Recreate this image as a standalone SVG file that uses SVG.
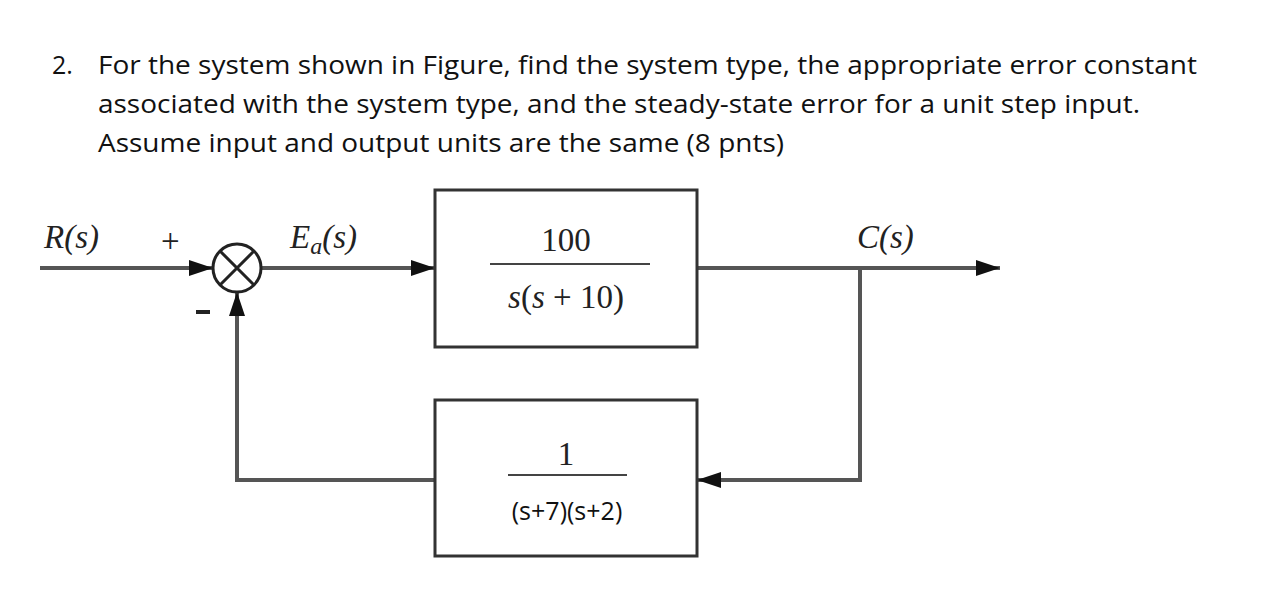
<svg xmlns="http://www.w3.org/2000/svg" width="1270" height="614" viewBox="0 0 1270 614">
<style>
.h{font-family:"Open Sans","Liberation Sans",Arial,sans-serif;font-size:25px;fill:#111}
.m{font-family:"Liberation Serif","Times New Roman",serif;font-size:33px;fill:#222}
.c{stroke:#555;stroke-width:4;fill:none}
.b{stroke:#333;stroke-width:3;fill:#fff}
</style>
<defs>
<marker id="A" viewBox="0 0 10 10" refX="10" refY="5" markerWidth="24" markerHeight="16" orient="auto" markerUnits="userSpaceOnUse" preserveAspectRatio="none"><path d="M0,0L10,5L0,10z" fill="#111"/></marker></defs>
<text class="h" x="52" y="74">2.</text>
<text class="h" x="98" y="74" textLength="1099" lengthAdjust="spacingAndGlyphs">For the system shown in Figure, find the system type, the appropriate error constant</text>
<text class="h" x="98" y="113" textLength="1042" lengthAdjust="spacingAndGlyphs">associated with the system type, and the steady-state error for a unit step input.</text>
<text class="h" x="98" y="152" textLength="686" lengthAdjust="spacingAndGlyphs">Assume input and output units are the same (8 pnts)</text>
<g id="connectors">
<path class="c" d="M40,268H213" marker-end="url(#A)"/>
<path class="c" d="M261,268H435" marker-end="url(#A)"/>
<path class="c" d="M697,268H1000" marker-end="url(#A)"/>
<path class="c" d="M860,268V480H697" marker-end="url(#A)"/>
<path class="c" d="M435,480H237V292" marker-end="url(#A)"/>
</g>
<g id="sum"><circle cx="237" cy="268" r="24" fill="#fff" stroke="#222" stroke-width="3"/><path d="M220,251L254,285M254,251L220,285" stroke="#222" stroke-width="3"/>
<text class="m" x="44" y="248" font-style="italic">R(s)</text>
<text class="m" x="161" y="252" font-size="34">+</text>
<path d="M196,312H210" stroke="#222" stroke-width="4"/></g>
<text class="m" x="290" y="248" font-style="italic">E<tspan font-size="24" dy="6">a</tspan><tspan dy="-6">(s)</tspan></text>
<g id="forward"><rect class="b" x="435" y="190" width="262" height="157"/>
<text class="m" x="566" y="251" text-anchor="middle">100</text>
<path d="M490,264H650" stroke="#444" stroke-width="2"/>
<text class="m" x="566" y="308" text-anchor="middle"><tspan font-style="italic">s</tspan>(<tspan font-style="italic">s</tspan> + 10)</text></g>
<text class="m" x="857" y="248" font-style="italic">C(s)</text>
<g id="feedback"><rect class="b" x="435" y="400" width="262" height="156"/>
<text class="m" x="566" y="465" text-anchor="middle">1</text>
<path d="M508,475H627" stroke="#444" stroke-width="2"/>
<text class="h" x="567" y="520" text-anchor="middle" font-size="24">(s+7)(s+2)</text></g>
</svg>
